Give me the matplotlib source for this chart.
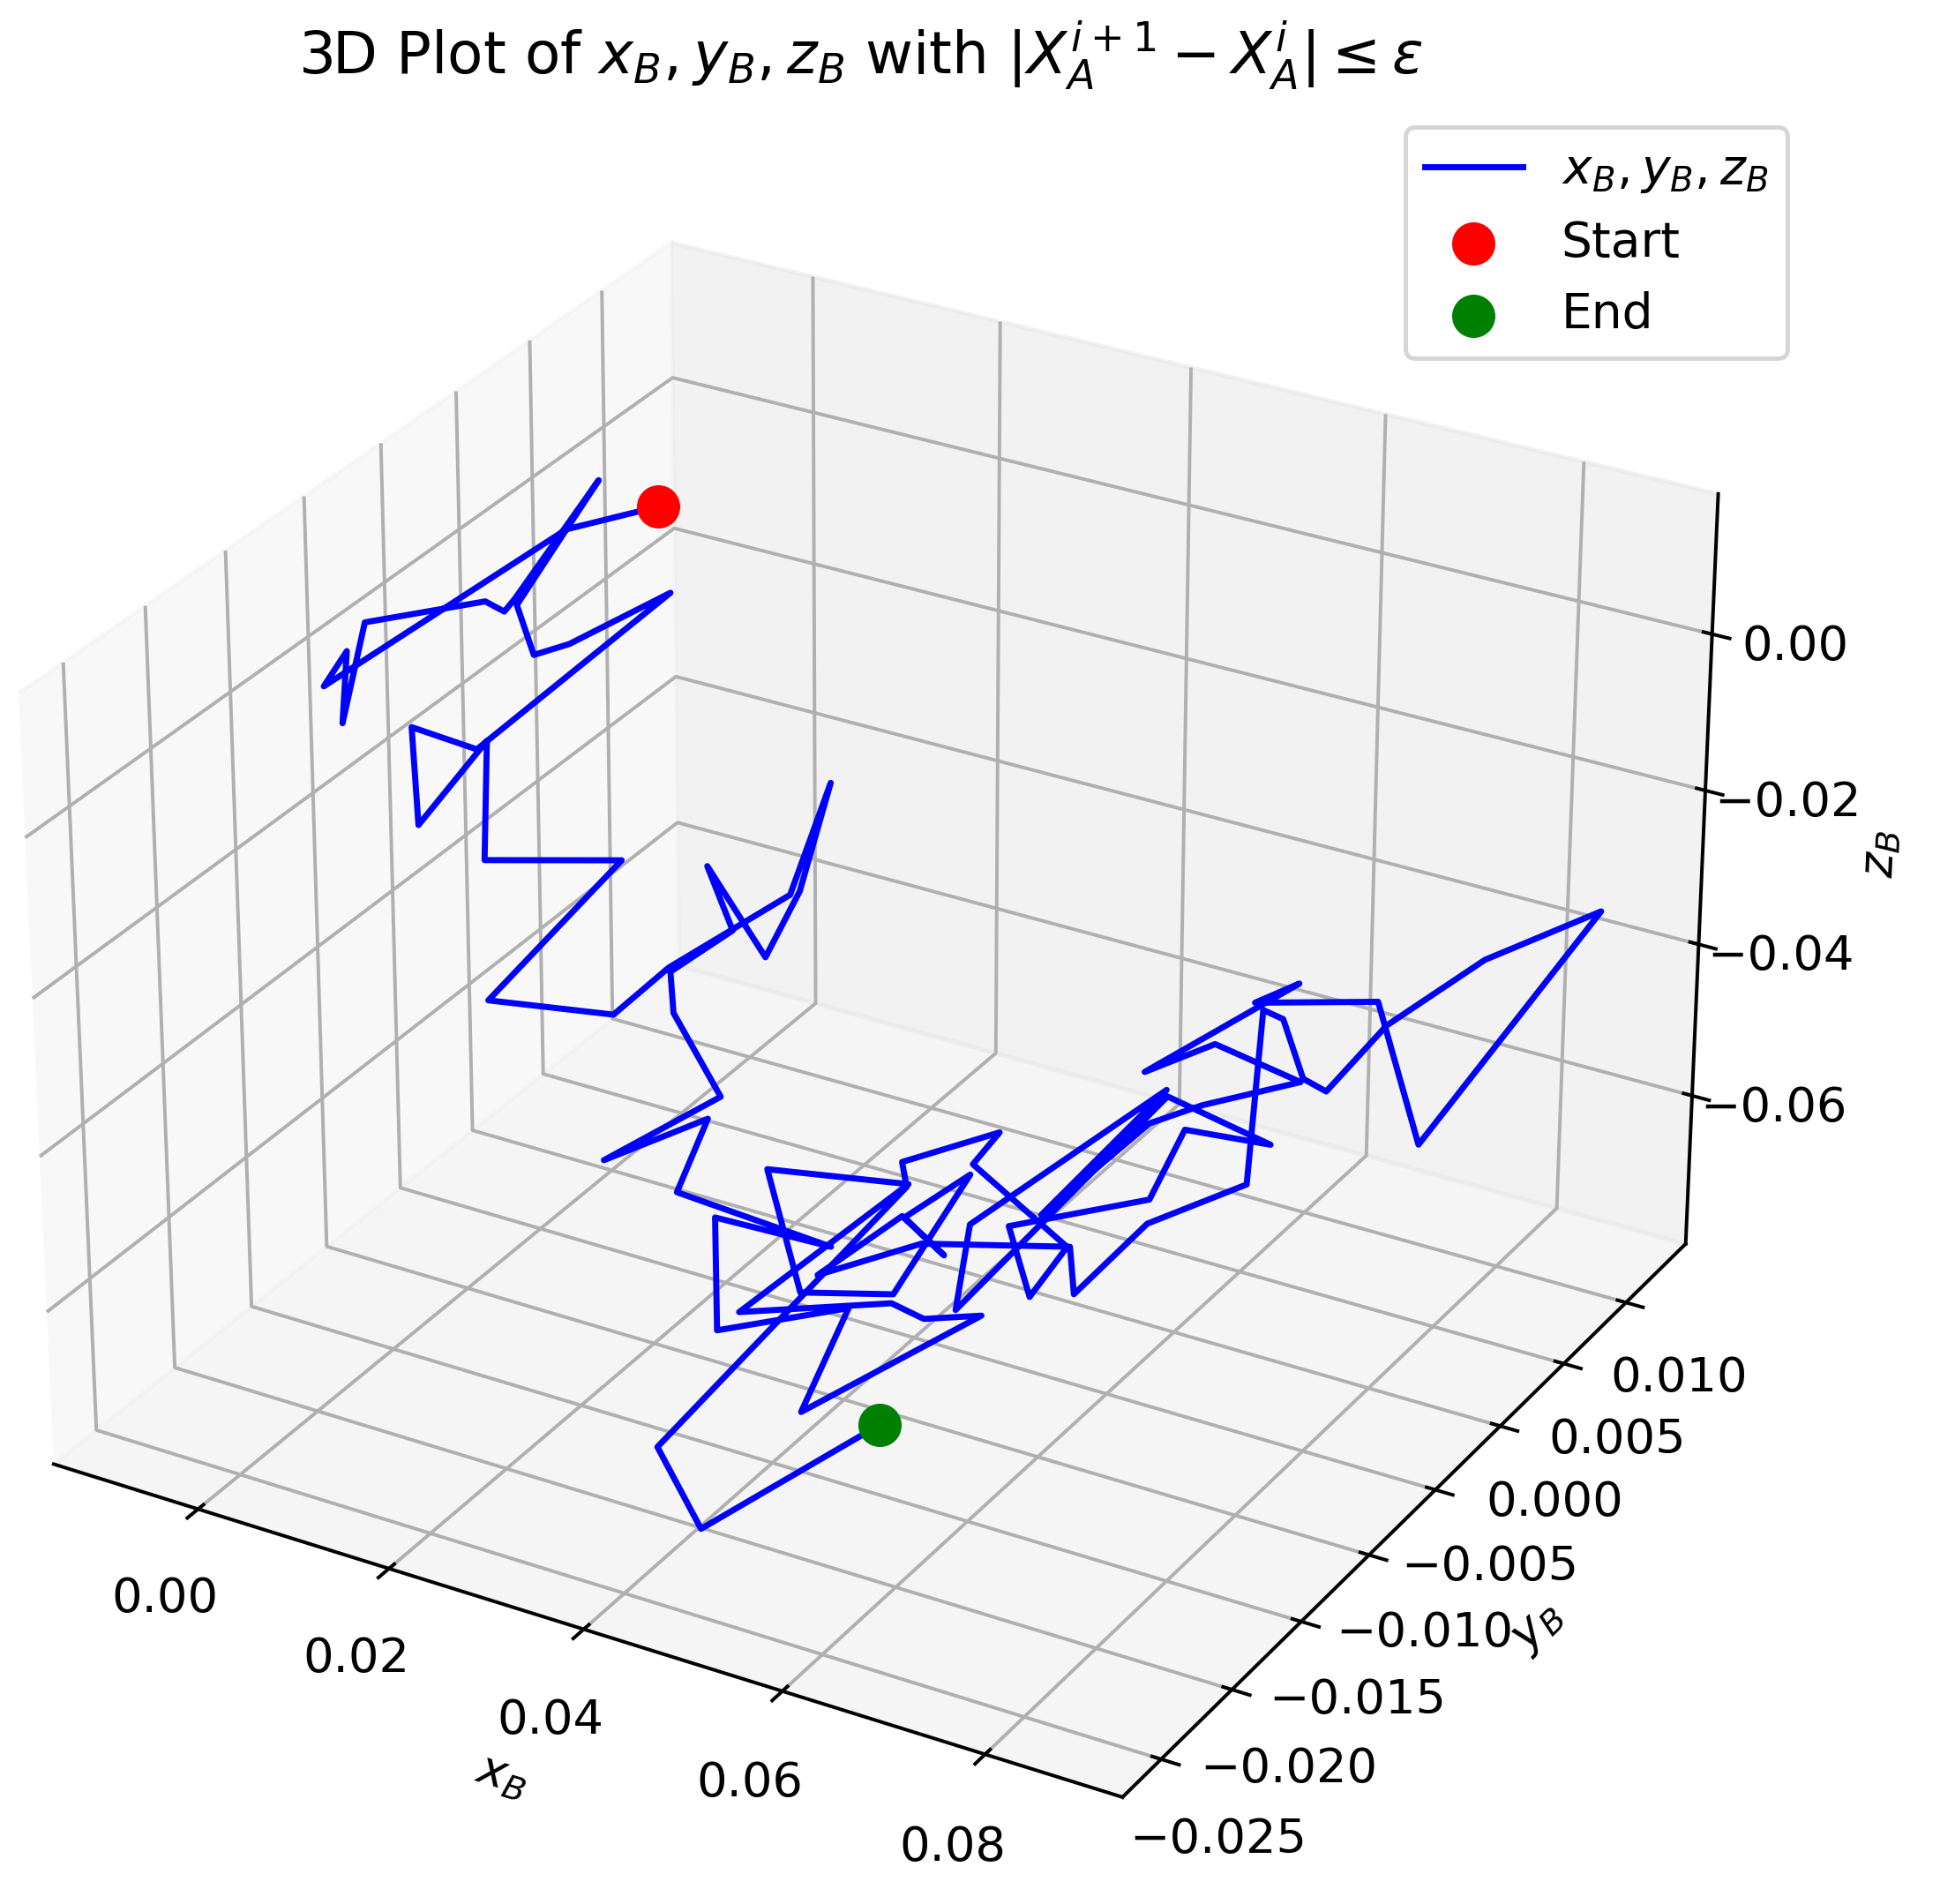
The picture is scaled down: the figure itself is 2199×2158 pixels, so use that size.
import numpy as np
import matplotlib
matplotlib.use("Agg")
import matplotlib.pyplot as plt

# trajectory of B
x_b = np.array([
    0.0007, -0.0012, -0.0011, -0.0022, 0.0015, -0.0031, -0.0001, 0.0010, 0.0008, -0.0029,
    0.0011, 0.0043, 0.0049, 0.0058, 0.0073, 0.0039, 0.0071, 0.0072, 0.0102, 0.0165,
    0.0102, 0.0161, 0.0187, 0.0294, 0.0282, 0.0304, 0.0268, 0.0208, 0.0234, 0.0187,
    0.0200, 0.0286, 0.0213, 0.0285, 0.0294, 0.0457, 0.0340, 0.0396, 0.0501, 0.0507,
    0.0620, 0.0572, 0.0536, 0.0407, 0.0495, 0.0363, 0.0452, 0.0533, 0.0544, 0.0507,
    0.0560, 0.0504, 0.0458, 0.0534, 0.0664, 0.0690, 0.0701, 0.0719, 0.0697, 0.0707,
    0.0718, 0.0730, 0.0759, 0.0806, 0.0861, 0.0776, 0.0754, 0.0693, 0.0715, 0.0638,
    0.0673, 0.0717, 0.0667, 0.0655, 0.0625, 0.0649, 0.0567, 0.0595, 0.0650, 0.0710,
    0.0671, 0.0690, 0.0602, 0.0653, 0.0662, 0.0541, 0.0549, 0.0478, 0.0494, 0.0397,
    0.0472, 0.0581,
])
y_b = np.array([
    0.00337, -0.00166, -0.01759, -0.01544, -0.01804, -0.01372, -0.00780, -0.00725, -0.00642, 0.00165,
    -0.00648, -0.00742, -0.00542, 0.00088, -0.01311, -0.01516, -0.01682, -0.01239, -0.01455, -0.00952,
    -0.01450, -0.00996, -0.00786, -0.00653, -0.00288, -0.00653, -0.00653, -0.00653, -0.00653, -0.00775,
    -0.00841, -0.01085, -0.01405, -0.01167, -0.01439, -0.01472, -0.01483, -0.01842, -0.01649, -0.02014,
    -0.01549, -0.01616, -0.01593, -0.01765, -0.01195, -0.01278, -0.01649, -0.01560, -0.01101, -0.01306,
    -0.01394, -0.01300, -0.01571, -0.01372, -0.01239, -0.01394, -0.00952, -0.00354, -0.00089, -0.00012,
    0.00066, 0.00154, 0.00387, 0.00779, 0.01266, 0.00531, 0.00354, -0.00122, 0.00044, -0.00526,
    -0.00266, 0.00055, -0.00310, -0.00609, -0.01167, -0.00443, -0.01262, -0.01555, -0.00443, -0.00111,
    -0.00465, -0.00858, -0.01234, -0.01444, -0.01245, -0.01062, -0.00930, -0.01123, -0.01201, -0.02252,
    -0.02456, -0.01981,
])
z_b = np.array([
    0.0033, 0.0066, 0.0089, 0.0099, 0.0058, 0.0108, 0.0062, 0.0045, 0.0049, 0.0079,
    0.0043, 0.0003, -0.0009, -0.0028, -0.0026, 0.0020, -0.0068, -0.0026, -0.0135, -0.0188,
    -0.0314, -0.0381, -0.0343, -0.0233, -0.0147, -0.0225, -0.0322, -0.0225, -0.0299, -0.0350,
    -0.0389, -0.0430, -0.0488, -0.0446, -0.0495, -0.0501, -0.0504, -0.0571, -0.0535, -0.0606,
    -0.0517, -0.0528, -0.0525, -0.0556, -0.0451, -0.0466, -0.0533, -0.0520, -0.0436, -0.0472,
    -0.0487, -0.0472, -0.0521, -0.0485, -0.0463, -0.0489, -0.0466, -0.0504, -0.0328, -0.0348,
    -0.0433, -0.0459, -0.0399, -0.0357, -0.0348, -0.0571, -0.0365, -0.0315, -0.0308, -0.0361,
    -0.0353, -0.0436, -0.0427, -0.0408, -0.0448, -0.0393, -0.0466, -0.0518, -0.0401, -0.0494,
    -0.0433, -0.0454, -0.0460, -0.0498, -0.0463, -0.0430, -0.0407, -0.0440, -0.0454, -0.0653,
    -0.0695, -0.0600,
])

W, H, DPI = 2199, 2158, 355
plt.rcParams["font.size"] = 11

fig = plt.figure(figsize=(W / DPI, H / DPI), dpi=DPI)
ax = fig.add_axes([-0.038865, -0.018942, 0.964121, 0.982438], projection="3d")

ax.plot(x_b, y_b, z_b, color="b", lw=1.4, label=r"$x_B, y_B, z_B$")
ax.scatter(x_b[0], y_b[0], z_b[0], color="r", s=80, depthshade=False, label="Start")
ax.scatter(x_b[-1], y_b[-1], z_b[-1], color="g", s=80, depthshade=False, label="End")

ax.set_xlabel(r"$x_B$")
ax.set_ylabel(r"$y_B$")
ax.set_zlabel(r"$z_B$")
fig.suptitle(r"3D Plot of $x_B, y_B, z_B$ with $|X_A^{i+1} - X_A^i| \leq \varepsilon$",
             x=975 / W, y=1 - 83 / H, va="baseline", fontsize=13.4)
ax.legend(loc="upper right", bbox_to_anchor=(2026 / W, 1 - 144 / H),
          bbox_transform=fig.transFigure, borderaxespad=0, fontsize=11.2)

# view matched to the reference box
ax.set_xlim(-0.015395, 0.093329)
ax.set_ylim(-0.027677, 0.014900)
ax.set_zlim(-0.079900, 0.017658)
ax.view_init(elev=28.380859, azim=-60.017578)
ax.set_box_aspect((4, 3.98125, 2.830078))

fig.savefig("out.png", dpi=DPI)
